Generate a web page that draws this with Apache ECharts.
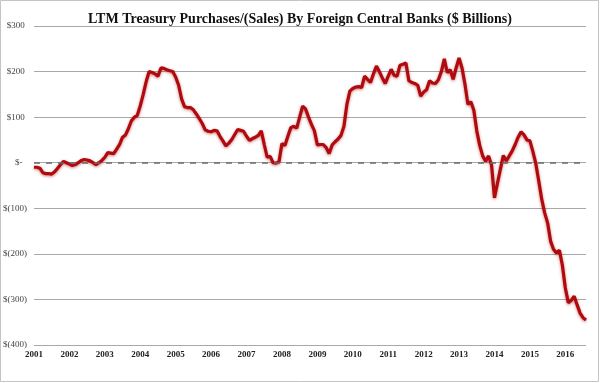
<!DOCTYPE html>
<html>
<head>
<meta charset="utf-8">
<script src="https://cdn.jsdelivr.net/npm/echarts@6/dist/echarts.min.js"></script>
<style>html,body{margin:0;padding:0;background:#fff}#c{width:600px;height:383px}</style>
</head>
<body>
<div id="c"></div>
<script>
// Monthly LTM Treasury purchases/(sales), $ billions, Jan 2001 onward
const v2001 = [-10, -10, -12, -22, -24, -24, -25, -20, -12, -4, 3, 0];
const v2002 = [-3, -6, -4, 0, 5, 7, 6, 4, 0, -4, 0, 5];
const v2003 = [12, 22, 21, 20, 30, 40, 56, 61, 75, 92, 100, 104];
const v2004 = [125, 150, 178, 200, 198, 195, 190, 208, 207, 204, 202, 200];
const v2005 = [188, 170, 140, 123, 121, 121, 116, 107, 97, 86, 72, 69];
const v2006 = [68, 71, 70, 58, 48, 37, 43, 51, 62, 73, 71, 69];
const v2007 = [58, 49, 53, 56, 60, 70, 40, 12, 14, 0, -1, 2];
const v2008 = [42, 38, 58, 77, 80, 76, 100, 124, 118, 100, 84, 70];
const v2009 = [39, 40, 40, 33, 20, 39, 46, 52, 60, 80, 128, 157];
const v2010 = [163, 166, 167, 165, 190, 183, 176, 195, 212, 200, 186, 174];
const v2011 = [190, 205, 192, 190, 214, 216, 219, 180, 176, 174, 170, 146];
const v2012 = [155, 160, 180, 175, 174, 182, 200, 228, 198, 204, 183, 208];
const v2013 = [230, 208, 172, 128, 134, 115, 70, 38, 15, 3, 15, -5];
const v2014 = [-77, -45, -14, 16, 4, 15, 26, 40, 56, 68, 61, 50];
const v2015 = [48, 25, -2, -40, -80, -110, -132, -172, -190, -198, -192, -225];
const v2016 = [-275, -307, -302, -293, -312, -330, -340, -345];

const startYear = 2001;
const yTicks = [300, 200, 100, 0, -100, -200, -300, -400];
const titleText = 'LTM Treasury Purchases/(Sales) By Foreign Central Banks ($ Billions)';

const values = [].concat(v2001, v2002, v2003, v2004, v2005, v2006, v2007, v2008,
  v2009, v2010, v2011, v2012, v2013, v2014, v2015, v2016);
const categories = values.map((_, i) => {
  const y = startYear + Math.floor(i / 12);
  const m = (i % 12) + 1;
  return y + '-' + (m < 10 ? '0' + m : m);
});

function fmtY(v) {
  if (v === 0) return '$-  ';
  if (v < 0) return '$(' + Math.abs(v) + ')';
  return '$' + v + ' ';
}

const chart = echarts.init(document.getElementById('c'), null, {renderer: 'canvas'});
chart.setOption({
  animation: false,
  backgroundColor: '#fff',
  title: {
    text: titleText,
    left: 'center',
    top: 7,
    textStyle: {fontFamily: 'Liberation Serif', fontWeight: 'bold', fontSize: 14, color: '#111'}
  },
  graphic: [{
    type: 'rect', shape: {x: 0.5, y: 0.5, width: 598, height: 381},
    style: {fill: 'none', stroke: '#c4c4c4', lineWidth: 1}, silent: true
  }],
  grid: {left: 33, right: 14, top: 26, bottom: 38},
  xAxis: {
    type: 'category',
    data: categories,
    boundaryGap: false,
    axisLine: {show: false},
    axisTick: {show: false},
    splitLine: {show: false},
    axisLabel: {
      interval: (idx) => idx % 12 === 0,
      formatter: (val) => val.slice(0, 4),
      fontFamily: 'Liberation Serif', fontWeight: 'bold', fontSize: 9, color: '#222', margin: 5
    }
  },
  yAxis: {
    type: 'value',
    min: -400, max: 300, interval: 100,
    axisLine: {show: false},
    axisTick: {show: false},
    splitLine: {lineStyle: {color: '#a8a8a8', width: 1}},
    axisLabel: {
      formatter: (v) => yTicks.indexOf(v) >= 0 ? fmtY(v) : '',
      fontFamily: 'Liberation Serif', fontSize: 9, color: '#444', margin: 7
    }
  },
  series: [{
    type: 'line',
    data: values,
    showSymbol: false,
    symbol: 'none',
    lineStyle: {color: '#b00a0e', width: 3.2, shadowColor: 'rgba(150,0,0,0.5)', shadowBlur: 3, shadowOffsetY: 1},
    markLine: {
      silent: true,
      symbol: 'none',
      label: {show: false},
      lineStyle: {color: '#6a6a6a', type: [6, 6], width: 1.5},
      data: [{yAxis: 0}]
    },
    z: 3
  }]
});
</script>
</body>
</html>
